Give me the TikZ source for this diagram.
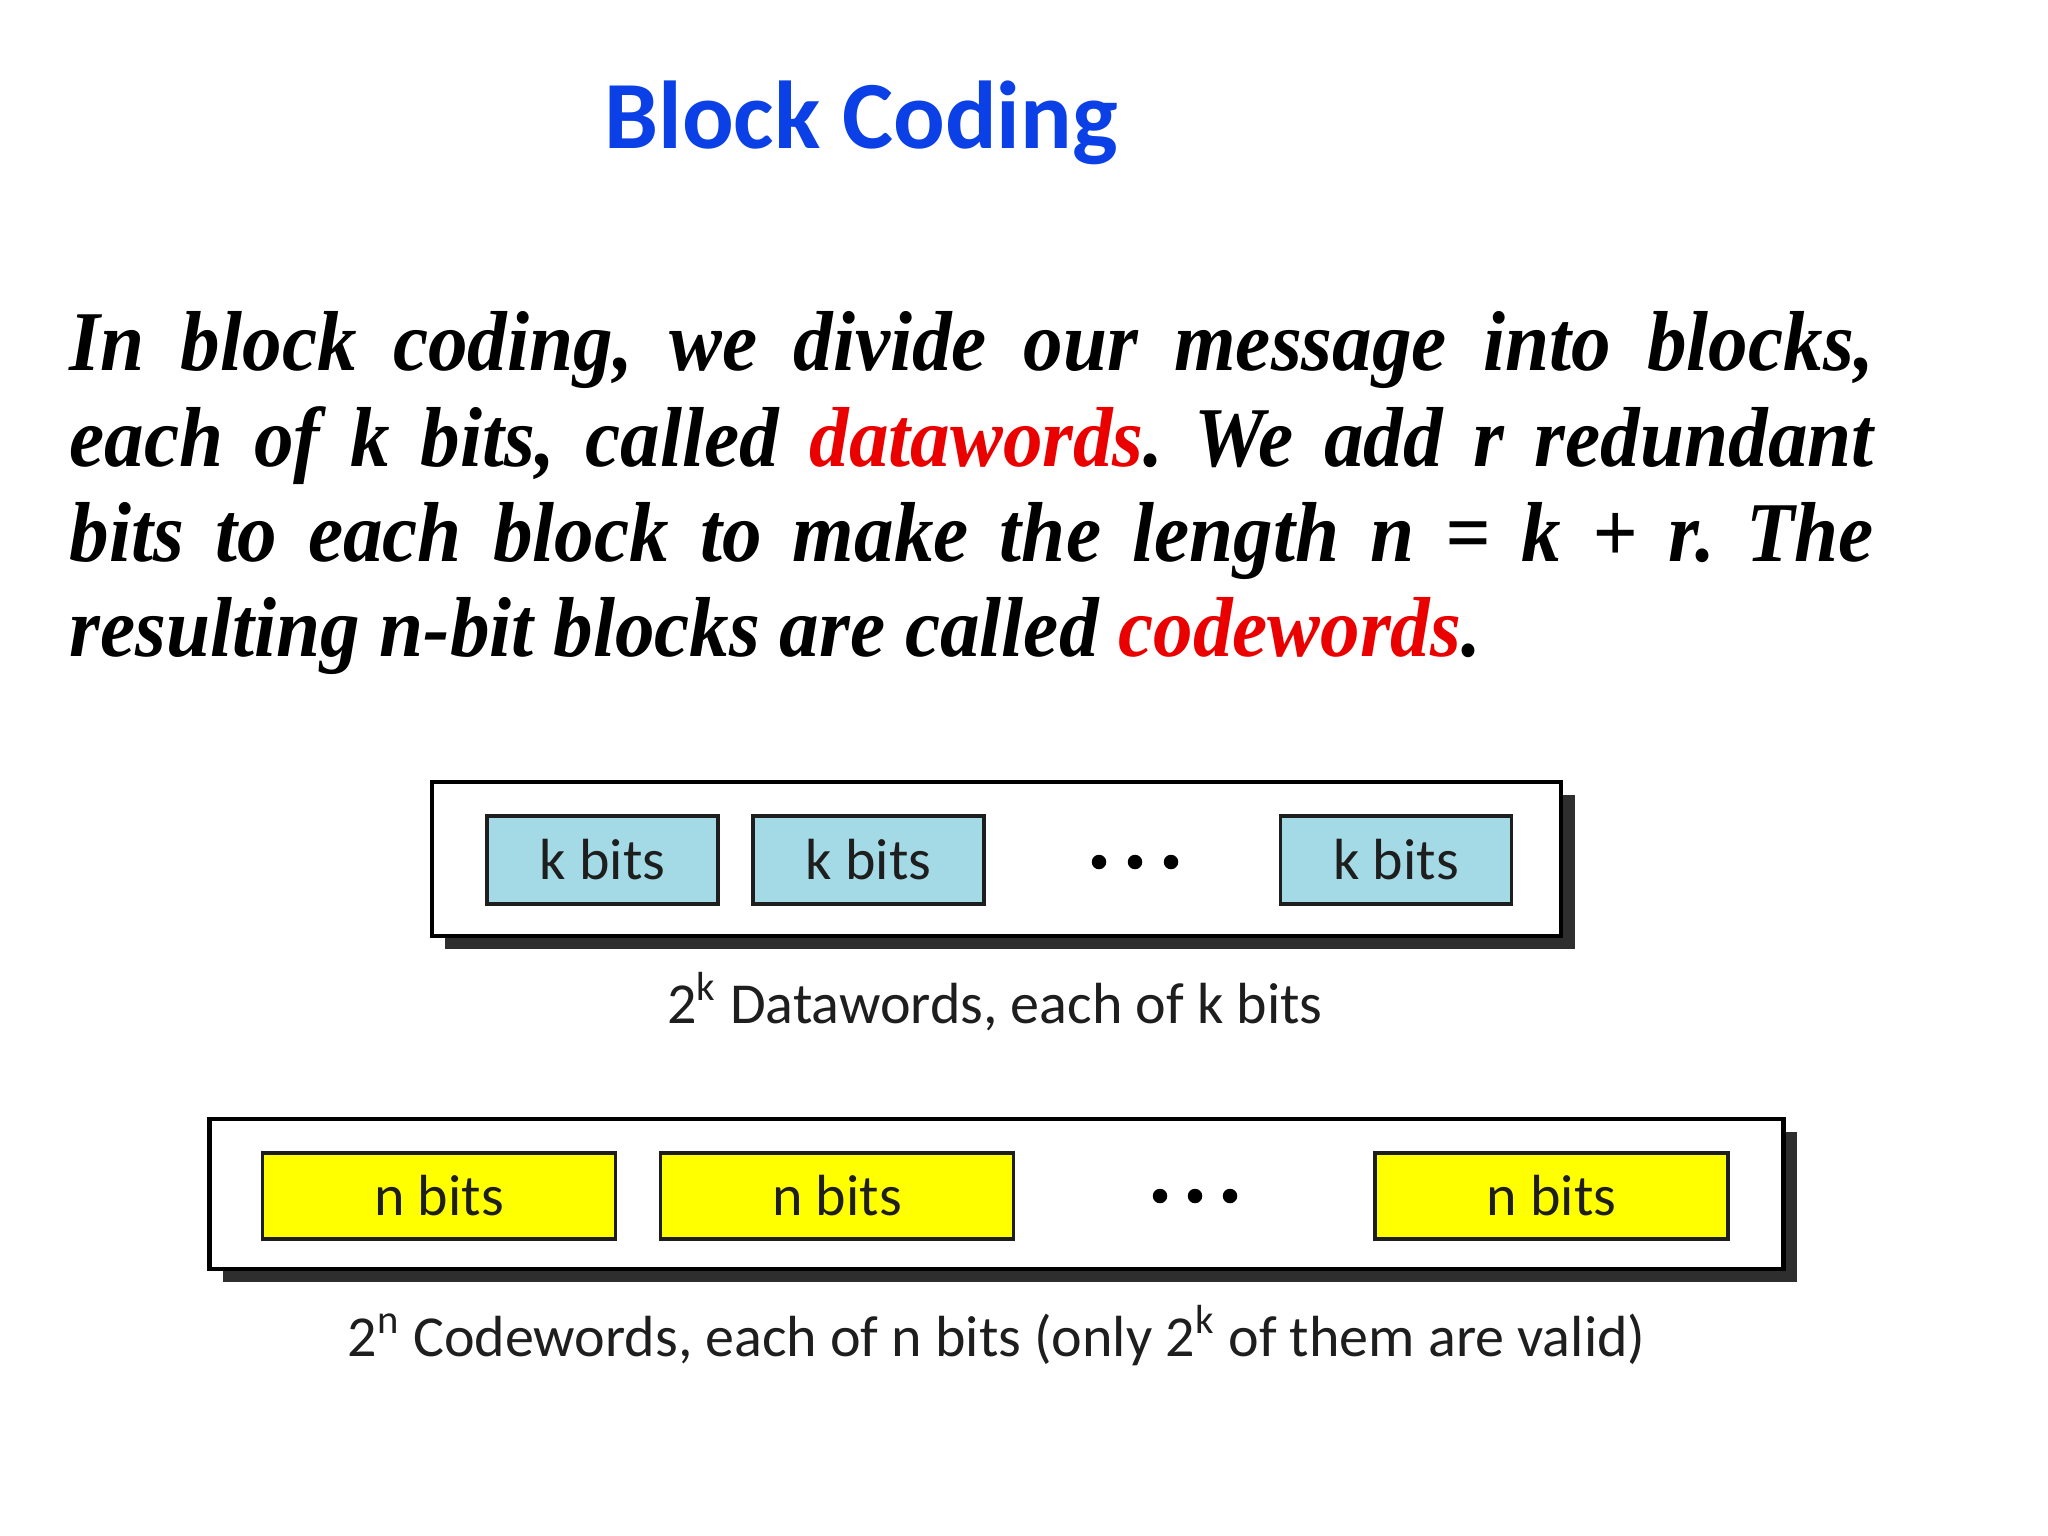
\documentclass[tikz,border=0pt]{standalone}
\usepackage{fontspec}
\setmainfont{Liberation Serif}
\newfontfamily\titlefont{Carlito}
\newfontfamily\diagfont{Carlito}
\newfontfamily\bodyfont[FakeStretch=0.93]{Liberation Serif}
\definecolor{titleblue}{RGB}{10,64,230}
\definecolor{kblue}{RGB}{163,218,230}
\definecolor{nyellow}{RGB}{255,255,0}
\definecolor{wordred}{RGB}{235,0,0}
\definecolor{inkgray}{RGB}{30,30,30}
\newcommand{\rw}[1]{\textcolor{wordred}{#1}}
\newcommand{\fullline}[1]{\makebox[18.03cm][s]{#1}}
\frenchspacing
\begin{document}
\begin{tikzpicture}[x=0.01cm,y=-0.01cm,
  titletext/.style={font=\titlefont\bfseries\fontsize{27.4pt}{30pt}\selectfont, text=titleblue, inner sep=0pt},
  bodyline/.style={font=\bodyfont\bfseries\itshape\fontsize{24.2pt}{27.3pt}\selectfont, inner sep=0pt, anchor=base west},
  outerbox/.style={draw=black, line width=1.2pt, fill=white, inner sep=0pt},
  shadowbox/.style={fill=black!82, draw=none, inner sep=0pt},
  kbox/.style={draw=inkgray, line width=1pt, fill=kblue, inner sep=0pt, minimum height=0.88cm, minimum width=2.31cm,
    font=\diagfont\fontsize{16.5pt}{18pt}\selectfont, text=inkgray},
  nbox/.style={draw=inkgray, line width=1pt, fill=nyellow, inner sep=0pt, minimum height=0.86cm, minimum width=3.53cm,
    font=\diagfont\fontsize{16.5pt}{18pt}\selectfont, text=inkgray},
  dotmark/.style={circle, fill=black, inner sep=0pt, minimum size=0.145cm},
  captiontext/.style={font=\diagfont\fontsize{16.5pt}{18pt}\selectfont, text=inkgray, inner sep=0pt, anchor=base}
]
\useasboundingbox (0,0) rectangle (2048,1536);
\fill[white] (0,0) rectangle (2048,1536);

% title
\node[titletext, anchor=base] (title) at (861,148) {Block Coding};

% paragraph
\node[bodyline] (l1) at (69,370) {\fullline{In block coding, we divide our message into blocks,}};
\node[bodyline] (l2) at (69,466) {\fullline{each of k bits, called \rw{datawords}. We add r redundant}};
\node[bodyline] (l3) at (69,561) {\fullline{bits to each block to make the length n = k + r. The}};
\node[bodyline] (l4) at (69,656) {resulting n-bit blocks are called \rw{codewords}.};

% datawords frame
\node[shadowbox, minimum width=11.29cm, minimum height=1.54cm] (dshadow) at (1010,872) {};
\node[outerbox, minimum width=11.29cm, minimum height=1.54cm] (dframe) at (996.5,859) {};
\node[kbox] (k1) at (602.5,860) {k bits};
\node[kbox] (k2) at (868.5,860) {k bits};
\node[kbox] (k3) at (1396,860) {k bits};
\node[dotmark] (kd1) at (1099,862) {};
\node[dotmark] (kd2) at (1135,862) {};
\node[dotmark] (kd3) at (1171,862) {};
\node[captiontext] (dcap) at (995,1023) {2\textsuperscript{k} Datawords, each of k bits};

% codewords frame
\node[shadowbox, minimum width=15.73cm, minimum height=1.50cm] (cshadow) at (1010,1207) {};
\node[outerbox, minimum width=15.73cm, minimum height=1.50cm] (cframe) at (996.5,1194) {};
\node[nbox] (n1) at (439,1196) {n bits};
\node[nbox] (n2) at (837,1196) {n bits};
\node[nbox] (n3) at (1551.5,1196) {n bits};
\node[dotmark] (nd1) at (1160,1196) {};
\node[dotmark] (nd2) at (1195,1196) {};
\node[dotmark] (nd3) at (1230,1196) {};
\node[captiontext] (ccap) at (996.5,1356) {2\textsuperscript{n} Codewords, each of n bits (only 2\textsuperscript{k} of them are valid)};
\end{tikzpicture}
\end{document}
